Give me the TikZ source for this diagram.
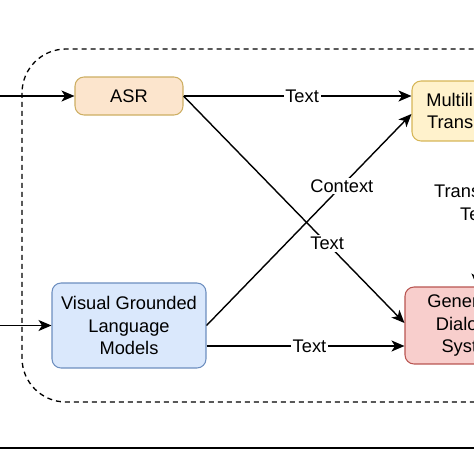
\documentclass[tikz,border=0pt]{standalone}
\usepackage{fontspec}
\setmainfont{Liberation Sans}
\usetikzlibrary{arrows.meta}
\tikzset{
	box/.style={draw,line width=0.6pt,rounded corners=0.18cm,align=center,inner sep=2pt},
	lbl/.style={fill=white,inner sep=1pt,align=center},
}
\definecolor{asrfill}{HTML}{FCE5CD}
\definecolor{asrline}{HTML}{CDAE62}
\definecolor{mtfill}{HTML}{FFF2CC}
\definecolor{mtline}{HTML}{D6B656}
\definecolor{vgfill}{HTML}{DAE8FC}
\definecolor{vgline}{HTML}{6C8EBF}
\definecolor{genfill}{HTML}{F8CECC}
\definecolor{genline}{HTML}{B85450}
\begin{document}
\begin{tikzpicture}[x=0.02cm,y=-0.02cm,line join=round,>={Stealth[length=0.26cm,width=0.22cm,inset=0.07cm]},font=\fontsize{10.4}{12.8}\selectfont,line width=0.8pt]
	\useasboundingbox (0,0) rectangle (474,474);
	\clip (0,0) rectangle (474,474);
	\draw[line width=0.75pt,dash pattern=on 0.1cm off 0.08cm,rounded corners=0.88cm] (22,49) rectangle (620,402);
	\draw[line width=0.85pt] (0,448) -- (474,448);
	\node[box,fill=asrfill,draw=asrline,minimum width=2.16cm,minimum height=0.76cm] (asr) at (129,96) {ASR};
	\node[box,fill=vgfill,draw=vgline,minimum width=3.08cm,minimum height=1.7cm] (vglm) at (129,325.5) {Visual Grounded\\Language\\Models};
	\node[box,fill=mtfill,draw=mtline,minimum width=2.4cm,minimum height=1.2cm] (mt) at (472,111) {Multilingual\\Translation};
	\node[box,fill=genfill,draw=genline,minimum width=2.68cm,minimum height=1.54cm] (gen) at (472,325.5) {Generative\\Dialogue\\System};
	\coordinate (in1) at (0,96);
	\coordinate (in2) at (0,325.5);
	\draw[->] (in1) -- (asr);
	\draw[->] (in2) -- (vglm);
	\draw[->] (asr.east) -- (asr.east -| mt.west) node[lbl,pos=0.52] {Text};
	\draw[->] (vglm.east) -- ([yshift=-0.06cm]mt.west) node[lbl,pos=0.66] {Context};
	\draw[->] (asr.east) -- ([yshift=0.05cm]gen.west) node[lbl,pos=0.65] {Text};
	\draw[->] ([yshift=-0.41cm]vglm.east) -- ([yshift=-0.41cm]vglm.east -| gen.west) node[lbl,pos=0.52] {Text};
	\draw[->] ([xshift=0.1cm]mt.south) -- ([xshift=0.1cm]gen.north) node[lbl,pos=0.42] {Translated\\Text};
\end{tikzpicture}
\end{document}
